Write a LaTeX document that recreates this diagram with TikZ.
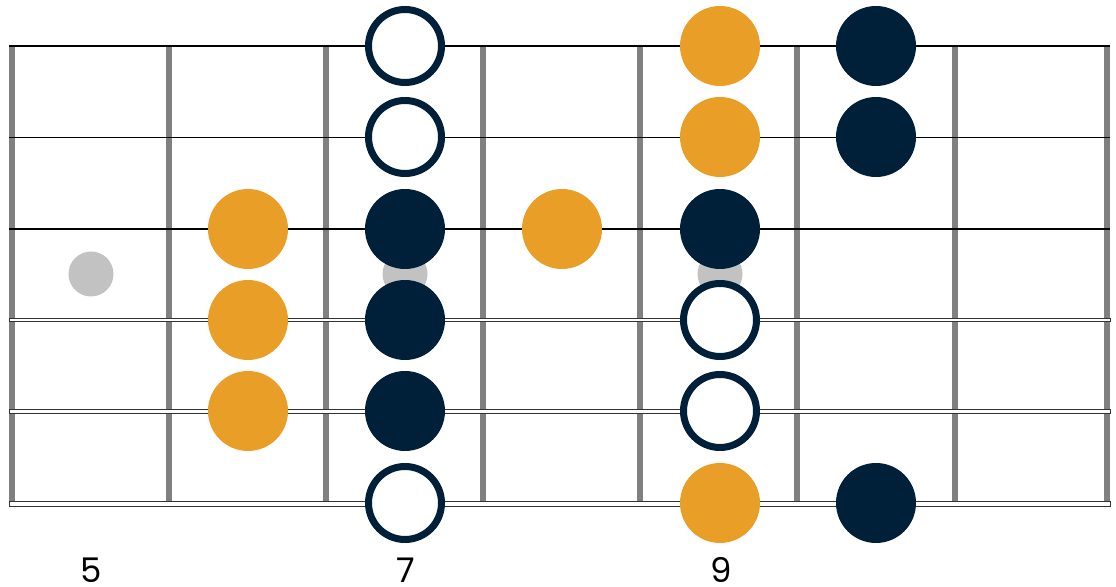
\documentclass[tikz,border=0pt]{standalone}
\usepackage{fontspec}
\setmainfont{Poppins}
\usetikzlibrary{calc}
\definecolor{navy}{HTML}{001F38}
\definecolor{amber}{HTML}{E99E28}
\definecolor{fretgrey}{HTML}{808080}
\definecolor{inlaygrey}{HTML}{C2C2C2}
\tikzstyle{fret}=[fretgrey, line width=3pt]
\tikzstyle{plain}=[black, line width=0.6pt]
\tikzstyle{wound}=[draw=black!80, fill=white, line width=0.5pt]
\tikzstyle{inlay}=[circle, fill=inlaygrey, minimum size=22.5pt, inner sep=0pt]
\tikzstyle{note}=[circle, minimum size=40pt, inner sep=0pt]
\tikzstyle{dark}=[note, fill=navy]
\tikzstyle{gold}=[note, fill=amber]
\tikzstyle{ring}=[note, minimum size=36.5pt, draw=navy, line width=3.5pt, fill=white]
\tikzstyle{fretnum}=[anchor=base, inner sep=0pt, font=\fontsize{17}{17}\selectfont]
\newcommand{\drawneck}[0]
{
  \draw[fret] (12,46) -- (12,504);
  \draw[fret] (169,46) -- (169,504);
  \draw[fret] (326,46) -- (326,504);
  \draw[fret] (483,46) -- (483,504);
  \draw[fret] (640,46) -- (640,504);
  \draw[fret] (797,46) -- (797,504);
  \draw[fret] (955,46) -- (955,504);
  \draw[fret] (1107,46) -- (1107,504);
  \draw[plain] (9,46) -- (1110,46);
  \draw[plain] (9,137.5) -- (1110,137.5);
  \draw[plain] (9,229) -- (1110,229);
  \draw[wound] (9,319) rectangle (1110,322);
  \draw[wound] (9,410) rectangle (1110,414);
  \draw[wound] (9,502) rectangle (1110,507);
}

\begin{document}
\begin{tikzpicture}[x=0.5pt, y=-0.5pt]
	\useasboundingbox (0,0) rectangle (1116,587);

	\drawneck{}

	\node[inlay](dot5) at (91,274){};
	\node[inlay](dot7) at (405,274){};
	\node[inlay](dot9) at (720,274){};

	% fret 6
	\node[gold](s3f6) at (248,229){};
	\node[gold](s4f6) at (248,320){};
	\node[gold](s5f6) at (248,411){};
	% fret 7
	\node[ring](s1f7) at (405,46){};
	\node[ring](s2f7) at (405,137){};
	\node[dark](s3f7) at (405,229){};
	\node[dark](s4f7) at (405,320){};
	\node[dark](s5f7) at (405,411){};
	\node[ring](s6f7) at (405,503){};
	% fret 8
	\node[gold](s3f8) at (562,229){};
	% fret 9
	\node[gold](s1f9) at (720,46){};
	\node[gold](s2f9) at (720,137){};
	\node[dark](s3f9) at (720,229){};
	\node[ring](s4f9) at (720,320){};
	\node[ring](s5f9) at (720,411){};
	\node[gold](s6f9) at (720,503){};
	% fret 10
	\node[dark](s1f10) at (876,46){};
	\node[dark](s2f10) at (876,137){};
	\node[dark](s6f10) at (876,503){};

	\node[fretnum](num5) at (91,583){5};
	\node[fretnum](num7) at (406,583){7};
	\node[fretnum](num9) at (721,583){9};

\end{tikzpicture}
\end{document}
